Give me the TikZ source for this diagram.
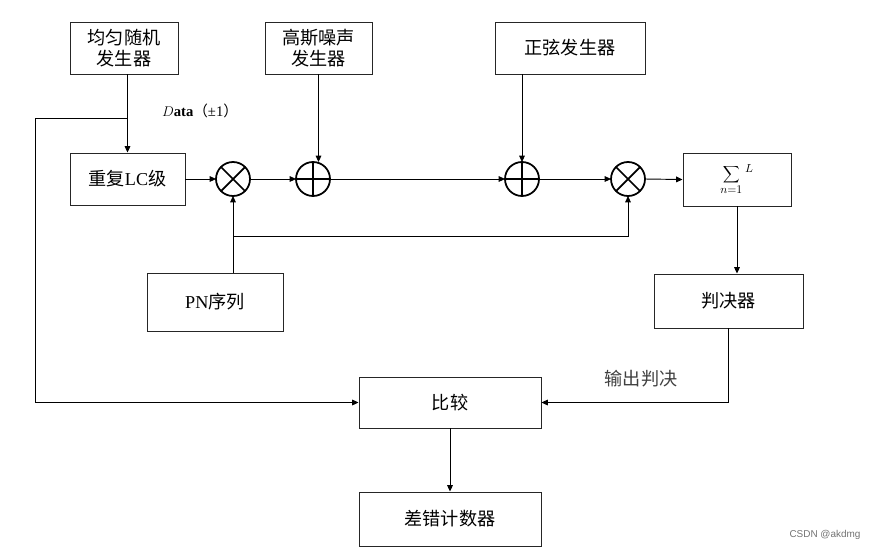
\documentclass[tikz,border=0pt]{standalone}
\usepackage{fontspec}
\setmainfont{Liberation Serif}
\newfontfamily\cjk{Noto Sans CJK SC}
\newfontfamily\wmfont{Liberation Sans}
\usetikzlibrary{arrows.meta}
\begin{document}
\begin{tikzpicture}[x=0.03cm,y=-0.03cm,
  box/.style={draw=black!85,line width=0.8pt,align=center,inner sep=0pt,
    font=\fontsize{15.5}{17.5}\selectfont},
  op/.style={draw=black,circle,line width=1.5pt,minimum size=1.02cm,inner sep=0pt,outer sep=0pt},
  arr/.style={line width=0.8pt,-{Triangle[length=1.9mm,width=1.7mm]}},
  ln/.style={line width=0.8pt}]
\useasboundingbox (0,0) rectangle (876,551);
% boxes
\node[box,minimum width=3.24cm,minimum height=1.56cm] (rand) at (124,48) {\cjk 均匀随机\\\cjk 发生器};
\node[box,minimum width=3.21cm,minimum height=1.56cm] (gauss) at (318.5,48) {\cjk 高斯噪声\\\cjk 发生器};
\node[box,minimum width=4.5cm,minimum height=1.56cm] (sine) at (570,48) {\cjk 正弦发生器};
\node[box,minimum width=3.45cm,minimum height=1.56cm] (rep) at (127.5,179) {{\cjk 重复}LC{\cjk 级}};
\node[box,minimum width=3.24cm,minimum height=1.59cm,font=\fontsize{14}{16}\selectfont] (sum) at (737,179.5) {$\displaystyle\sum_{n=1}{}^{L}$};
\node[box,minimum width=4.08cm,minimum height=1.74cm] (pn) at (215,302) {PN{\cjk 序列}};
\node[box,minimum width=4.47cm,minimum height=1.62cm] (dec) at (728.5,301) {\cjk 判决器};
\node[box,minimum width=5.46cm,minimum height=1.53cm] (cmp) at (450,402.5) {\cjk 比较};
\node[box,minimum width=5.46cm,minimum height=1.62cm] (err) at (450,519) {\cjk 差错计数器};
% operators
\node[op] (m1) at (233,179) {};
\node[op] (p1) at (313,179) {};
\node[op] (p2) at (522,179) {};
\node[op] (m2) at (628,179) {};
\draw[line width=1.5pt] (m1.north west) -- (m1.south east) (m1.north east) -- (m1.south west);
\draw[line width=1.5pt] (m2.north west) -- (m2.south east) (m2.north east) -- (m2.south west);
\draw[line width=1.5pt] (p1.north) -- (p1.south) (p1.west) -- (p1.east);
\draw[line width=1.5pt] (p2.north) -- (p2.south) (p2.west) -- (p2.east);
% connectors
\draw[arr] (rep.north |- rand.south) -- (rep.north);
\draw[arr] (rep.east) -- (m1.west);
\draw[arr] (m1.east) -- (p1.west);
\draw[arr] (p1.east) -- (p2.west);
\draw[arr] (p2.east) -- (m2.west);
\draw[arr] (m2.east) -- (sum.west);
\draw[arr] (gauss.south) -- (gauss.south |- p1.north);
\draw[arr] (p2.north |- sine.south) -- (p2.north);
\draw[arr] (m1.south |- pn.north) -- (m1.south);
\coordinate (br) at (233,236);
\draw[arr] (br) -| (m2.south);
\draw[arr] (sum.south) -- (sum.south |- dec.north);
\draw[arr] (dec.south) |- (cmp.east);
\draw[arr] (cmp.south) -- (err.north);
\coordinate (dj) at (127.5,118);
\coordinate (dl) at (35,118);
\draw[arr] (dj) -- (dl) |- (cmp.west);
% labels
\node[font=\fontsize{12.5}{14}\selectfont] (dlab) at (200,111) {$D$\textbf{ata}{\cjk （}±1{\cjk ）}};
\node[font=\fontsize{15.5}{17}\selectfont,text=black!75] (olab) at (641,379) {\cjk 输出判决};
\node[font=\wmfont\fontsize{8.5}{10}\selectfont,text=black!55] (wm) at (825,535) {CSDN @akdmg};
\end{tikzpicture}
\end{document}
